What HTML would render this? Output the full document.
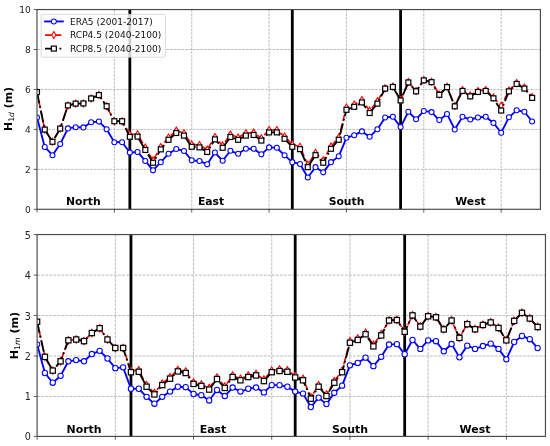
<!DOCTYPE html>
<html><head><meta charset="utf-8"><title>Wave height</title>
<style>html,body{margin:0;padding:0;background:#fff}svg{display:block}</style></head>
<body>
<svg width="550" height="446" viewBox="0 0 550 446">
<rect width="550" height="446" fill="#fff"/>
<g>
<path d="M114.36 9.55V209.3M191.73 9.55V209.3M269.09 9.55V209.3M346.45 9.55V209.3M423.81 9.55V209.3M501.18 9.55V209.3M37 169.35H540.4M37 129.4H540.4M37 89.45H540.4M37 49.5H540.4" fill="none" stroke="#b0b0b0" stroke-width="0.85" stroke-dasharray="2.65 1.15"/>
<line x1="129.84" x2="129.84" y1="9.55" y2="209.3" stroke="#000" stroke-width="2.8"/>
<line x1="292.3" x2="292.3" y1="9.55" y2="209.3" stroke="#000" stroke-width="2.8"/>
<line x1="400.61" x2="400.61" y1="9.55" y2="209.3" stroke="#000" stroke-width="2.8"/>
<text x="83.3" y="205" text-anchor="middle" font-family="'DejaVu Sans','Liberation Sans',sans-serif" font-weight="bold" font-size="10.8">North</text>
<text x="211" y="205" text-anchor="middle" font-family="'DejaVu Sans','Liberation Sans',sans-serif" font-weight="bold" font-size="10.8">East</text>
<text x="346.5" y="205" text-anchor="middle" font-family="'DejaVu Sans','Liberation Sans',sans-serif" font-weight="bold" font-size="10.8">South</text>
<text x="470.5" y="205" text-anchor="middle" font-family="'DejaVu Sans','Liberation Sans',sans-serif" font-weight="bold" font-size="10.8">West</text>
<clipPath id="c1d"><rect x="37" y="9.55" width="503.4" height="199.75"/></clipPath>
<g clip-path="url(#c1d)">
<polyline points="37,117.42 44.74,146.98 52.47,155.17 60.21,143.98 67.95,128.4 75.68,127.2 83.42,127.4 91.15,122.21 98.89,121.61 106.63,129.2 114.36,142.18 122.1,142.18 129.84,152.57 137.57,151.97 145.31,160.96 153.04,170.35 160.78,162.16 168.52,153.77 176.25,148.98 183.99,150.97 191.73,160.36 199.46,160.96 207.2,164.36 214.93,152.57 222.67,160.76 230.41,150.77 238.14,153.77 245.88,148.78 253.62,148.78 261.35,154.37 269.09,147.38 276.82,147.78 284.56,155.37 292.3,162.16 300.03,163.96 307.77,177.54 315.51,167.15 323.24,172.35 330.98,162.16 338.72,156.37 346.45,137.79 354.19,135.19 361.92,131.4 369.66,136.79 377.4,129.2 385.13,117.51 392.87,116.72 400.61,127.1 408.34,111.72 416.08,119.31 423.81,110.92 431.55,112.12 439.29,120.11 447.02,113.92 454.76,129.5 462.5,116.72 470.23,119.51 477.97,117.51 485.7,116.72 493.44,122.91 501.18,132.7 508.91,117.32 516.65,110.32 524.39,111.72 532.12,121.51" fill="none" stroke="#0000ff" stroke-width="1.85" stroke-linejoin="round"/>
<circle cx="37" cy="117.42" r="2.52" fill="#fff" stroke="#0000ff" stroke-width="1.05"/>
<circle cx="44.74" cy="146.98" r="2.52" fill="#fff" stroke="#0000ff" stroke-width="1.05"/>
<circle cx="52.47" cy="155.17" r="2.52" fill="#fff" stroke="#0000ff" stroke-width="1.05"/>
<circle cx="60.21" cy="143.98" r="2.52" fill="#fff" stroke="#0000ff" stroke-width="1.05"/>
<circle cx="67.95" cy="128.4" r="2.52" fill="#fff" stroke="#0000ff" stroke-width="1.05"/>
<circle cx="75.68" cy="127.2" r="2.52" fill="#fff" stroke="#0000ff" stroke-width="1.05"/>
<circle cx="83.42" cy="127.4" r="2.52" fill="#fff" stroke="#0000ff" stroke-width="1.05"/>
<circle cx="91.15" cy="122.21" r="2.52" fill="#fff" stroke="#0000ff" stroke-width="1.05"/>
<circle cx="98.89" cy="121.61" r="2.52" fill="#fff" stroke="#0000ff" stroke-width="1.05"/>
<circle cx="106.63" cy="129.2" r="2.52" fill="#fff" stroke="#0000ff" stroke-width="1.05"/>
<circle cx="114.36" cy="142.18" r="2.52" fill="#fff" stroke="#0000ff" stroke-width="1.05"/>
<circle cx="122.1" cy="142.18" r="2.52" fill="#fff" stroke="#0000ff" stroke-width="1.05"/>
<circle cx="129.84" cy="152.57" r="2.52" fill="#fff" stroke="#0000ff" stroke-width="1.05"/>
<circle cx="137.57" cy="151.97" r="2.52" fill="#fff" stroke="#0000ff" stroke-width="1.05"/>
<circle cx="145.31" cy="160.96" r="2.52" fill="#fff" stroke="#0000ff" stroke-width="1.05"/>
<circle cx="153.04" cy="170.35" r="2.52" fill="#fff" stroke="#0000ff" stroke-width="1.05"/>
<circle cx="160.78" cy="162.16" r="2.52" fill="#fff" stroke="#0000ff" stroke-width="1.05"/>
<circle cx="168.52" cy="153.77" r="2.52" fill="#fff" stroke="#0000ff" stroke-width="1.05"/>
<circle cx="176.25" cy="148.98" r="2.52" fill="#fff" stroke="#0000ff" stroke-width="1.05"/>
<circle cx="183.99" cy="150.97" r="2.52" fill="#fff" stroke="#0000ff" stroke-width="1.05"/>
<circle cx="191.73" cy="160.36" r="2.52" fill="#fff" stroke="#0000ff" stroke-width="1.05"/>
<circle cx="199.46" cy="160.96" r="2.52" fill="#fff" stroke="#0000ff" stroke-width="1.05"/>
<circle cx="207.2" cy="164.36" r="2.52" fill="#fff" stroke="#0000ff" stroke-width="1.05"/>
<circle cx="214.93" cy="152.57" r="2.52" fill="#fff" stroke="#0000ff" stroke-width="1.05"/>
<circle cx="222.67" cy="160.76" r="2.52" fill="#fff" stroke="#0000ff" stroke-width="1.05"/>
<circle cx="230.41" cy="150.77" r="2.52" fill="#fff" stroke="#0000ff" stroke-width="1.05"/>
<circle cx="238.14" cy="153.77" r="2.52" fill="#fff" stroke="#0000ff" stroke-width="1.05"/>
<circle cx="245.88" cy="148.78" r="2.52" fill="#fff" stroke="#0000ff" stroke-width="1.05"/>
<circle cx="253.62" cy="148.78" r="2.52" fill="#fff" stroke="#0000ff" stroke-width="1.05"/>
<circle cx="261.35" cy="154.37" r="2.52" fill="#fff" stroke="#0000ff" stroke-width="1.05"/>
<circle cx="269.09" cy="147.38" r="2.52" fill="#fff" stroke="#0000ff" stroke-width="1.05"/>
<circle cx="276.82" cy="147.78" r="2.52" fill="#fff" stroke="#0000ff" stroke-width="1.05"/>
<circle cx="284.56" cy="155.37" r="2.52" fill="#fff" stroke="#0000ff" stroke-width="1.05"/>
<circle cx="292.3" cy="162.16" r="2.52" fill="#fff" stroke="#0000ff" stroke-width="1.05"/>
<circle cx="300.03" cy="163.96" r="2.52" fill="#fff" stroke="#0000ff" stroke-width="1.05"/>
<circle cx="307.77" cy="177.54" r="2.52" fill="#fff" stroke="#0000ff" stroke-width="1.05"/>
<circle cx="315.51" cy="167.15" r="2.52" fill="#fff" stroke="#0000ff" stroke-width="1.05"/>
<circle cx="323.24" cy="172.35" r="2.52" fill="#fff" stroke="#0000ff" stroke-width="1.05"/>
<circle cx="330.98" cy="162.16" r="2.52" fill="#fff" stroke="#0000ff" stroke-width="1.05"/>
<circle cx="338.72" cy="156.37" r="2.52" fill="#fff" stroke="#0000ff" stroke-width="1.05"/>
<circle cx="346.45" cy="137.79" r="2.52" fill="#fff" stroke="#0000ff" stroke-width="1.05"/>
<circle cx="354.19" cy="135.19" r="2.52" fill="#fff" stroke="#0000ff" stroke-width="1.05"/>
<circle cx="361.92" cy="131.4" r="2.52" fill="#fff" stroke="#0000ff" stroke-width="1.05"/>
<circle cx="369.66" cy="136.79" r="2.52" fill="#fff" stroke="#0000ff" stroke-width="1.05"/>
<circle cx="377.4" cy="129.2" r="2.52" fill="#fff" stroke="#0000ff" stroke-width="1.05"/>
<circle cx="385.13" cy="117.51" r="2.52" fill="#fff" stroke="#0000ff" stroke-width="1.05"/>
<circle cx="392.87" cy="116.72" r="2.52" fill="#fff" stroke="#0000ff" stroke-width="1.05"/>
<circle cx="400.61" cy="127.1" r="2.52" fill="#fff" stroke="#0000ff" stroke-width="1.05"/>
<circle cx="408.34" cy="111.72" r="2.52" fill="#fff" stroke="#0000ff" stroke-width="1.05"/>
<circle cx="416.08" cy="119.31" r="2.52" fill="#fff" stroke="#0000ff" stroke-width="1.05"/>
<circle cx="423.81" cy="110.92" r="2.52" fill="#fff" stroke="#0000ff" stroke-width="1.05"/>
<circle cx="431.55" cy="112.12" r="2.52" fill="#fff" stroke="#0000ff" stroke-width="1.05"/>
<circle cx="439.29" cy="120.11" r="2.52" fill="#fff" stroke="#0000ff" stroke-width="1.05"/>
<circle cx="447.02" cy="113.92" r="2.52" fill="#fff" stroke="#0000ff" stroke-width="1.05"/>
<circle cx="454.76" cy="129.5" r="2.52" fill="#fff" stroke="#0000ff" stroke-width="1.05"/>
<circle cx="462.5" cy="116.72" r="2.52" fill="#fff" stroke="#0000ff" stroke-width="1.05"/>
<circle cx="470.23" cy="119.51" r="2.52" fill="#fff" stroke="#0000ff" stroke-width="1.05"/>
<circle cx="477.97" cy="117.51" r="2.52" fill="#fff" stroke="#0000ff" stroke-width="1.05"/>
<circle cx="485.7" cy="116.72" r="2.52" fill="#fff" stroke="#0000ff" stroke-width="1.05"/>
<circle cx="493.44" cy="122.91" r="2.52" fill="#fff" stroke="#0000ff" stroke-width="1.05"/>
<circle cx="501.18" cy="132.7" r="2.52" fill="#fff" stroke="#0000ff" stroke-width="1.05"/>
<circle cx="508.91" cy="117.32" r="2.52" fill="#fff" stroke="#0000ff" stroke-width="1.05"/>
<circle cx="516.65" cy="110.32" r="2.52" fill="#fff" stroke="#0000ff" stroke-width="1.05"/>
<circle cx="524.39" cy="111.72" r="2.52" fill="#fff" stroke="#0000ff" stroke-width="1.05"/>
<circle cx="532.12" cy="121.51" r="2.52" fill="#fff" stroke="#0000ff" stroke-width="1.05"/>
<polyline points="37,92.05 44.74,129.6 52.47,141.78 60.21,128.6 67.95,105.43 75.68,103.63 83.42,103.43 91.15,98.44 98.89,95.04 106.63,106.23 114.36,121.21 122.1,121.21 129.84,134.39 137.57,134.19 145.31,147.58 153.04,160.36 160.78,146.98 168.52,137.39 176.25,130.6 183.99,133.2 191.73,144.38 199.46,144.98 207.2,149.57 214.93,136.99 222.67,145.38 230.41,134.59 238.14,137.39 245.88,133.2 253.62,132.6 261.35,138.19 269.09,130 276.82,130 284.56,136.39 292.3,144.38 300.03,146.78 307.77,164.76 315.51,152.77 323.24,160.36 330.98,146.38 338.72,137.39 346.45,107.43 354.19,104.43 361.92,100.04 369.66,110.62 377.4,101.24 385.13,88.19 392.87,86.59 400.61,100.08 408.34,82.1 416.08,90.99 423.81,80 431.55,81.8 439.29,94.48 447.02,86.79 454.76,105.97 462.5,89.99 470.23,95.38 477.97,90.99 485.7,89.99 493.44,97.38 501.18,105.73 508.91,90.39 516.65,83 524.39,87.59 532.12,96.98" fill="none" stroke="#ff0000" stroke-width="1.6" stroke-dasharray="6.66 2.88" stroke-linejoin="round"/>
<path d="M37 88.6L39.1 92.05L37 95.5L34.9 92.05Z" fill="#fff" stroke="#ff0000" stroke-width="1.1"/>
<path d="M44.74 126.15L46.84 129.6L44.74 133.05L42.64 129.6Z" fill="#fff" stroke="#ff0000" stroke-width="1.1"/>
<path d="M52.47 138.33L54.57 141.78L52.47 145.23L50.37 141.78Z" fill="#fff" stroke="#ff0000" stroke-width="1.1"/>
<path d="M60.21 125.15L62.31 128.6L60.21 132.05L58.11 128.6Z" fill="#fff" stroke="#ff0000" stroke-width="1.1"/>
<path d="M67.95 101.98L70.04 105.43L67.95 108.88L65.85 105.43Z" fill="#fff" stroke="#ff0000" stroke-width="1.1"/>
<path d="M75.68 100.18L77.78 103.63L75.68 107.08L73.58 103.63Z" fill="#fff" stroke="#ff0000" stroke-width="1.1"/>
<path d="M83.42 99.98L85.52 103.43L83.42 106.88L81.32 103.43Z" fill="#fff" stroke="#ff0000" stroke-width="1.1"/>
<path d="M91.15 94.99L93.25 98.44L91.15 101.89L89.06 98.44Z" fill="#fff" stroke="#ff0000" stroke-width="1.1"/>
<path d="M98.89 91.59L100.99 95.04L98.89 98.49L96.79 95.04Z" fill="#fff" stroke="#ff0000" stroke-width="1.1"/>
<path d="M106.63 102.78L108.73 106.23L106.63 109.68L104.53 106.23Z" fill="#fff" stroke="#ff0000" stroke-width="1.1"/>
<path d="M114.36 117.76L116.46 121.21L114.36 124.66L112.26 121.21Z" fill="#fff" stroke="#ff0000" stroke-width="1.1"/>
<path d="M122.1 117.76L124.2 121.21L122.1 124.66L120 121.21Z" fill="#fff" stroke="#ff0000" stroke-width="1.1"/>
<path d="M129.84 130.94L131.93 134.39L129.84 137.84L127.74 134.39Z" fill="#fff" stroke="#ff0000" stroke-width="1.1"/>
<path d="M137.57 130.74L139.67 134.19L137.57 137.64L135.47 134.19Z" fill="#fff" stroke="#ff0000" stroke-width="1.1"/>
<path d="M145.31 144.13L147.41 147.58L145.31 151.03L143.21 147.58Z" fill="#fff" stroke="#ff0000" stroke-width="1.1"/>
<path d="M153.04 156.91L155.14 160.36L153.04 163.81L150.95 160.36Z" fill="#fff" stroke="#ff0000" stroke-width="1.1"/>
<path d="M160.78 143.53L162.88 146.98L160.78 150.43L158.68 146.98Z" fill="#fff" stroke="#ff0000" stroke-width="1.1"/>
<path d="M168.52 133.94L170.62 137.39L168.52 140.84L166.42 137.39Z" fill="#fff" stroke="#ff0000" stroke-width="1.1"/>
<path d="M176.25 127.15L178.35 130.6L176.25 134.05L174.15 130.6Z" fill="#fff" stroke="#ff0000" stroke-width="1.1"/>
<path d="M183.99 129.75L186.09 133.2L183.99 136.64L181.89 133.2Z" fill="#fff" stroke="#ff0000" stroke-width="1.1"/>
<path d="M191.73 140.93L193.82 144.38L191.73 147.83L189.63 144.38Z" fill="#fff" stroke="#ff0000" stroke-width="1.1"/>
<path d="M199.46 141.53L201.56 144.98L199.46 148.43L197.36 144.98Z" fill="#fff" stroke="#ff0000" stroke-width="1.1"/>
<path d="M207.2 146.13L209.3 149.57L207.2 153.02L205.1 149.57Z" fill="#fff" stroke="#ff0000" stroke-width="1.1"/>
<path d="M214.93 133.54L217.03 136.99L214.93 140.44L212.84 136.99Z" fill="#fff" stroke="#ff0000" stroke-width="1.1"/>
<path d="M222.67 141.93L224.77 145.38L222.67 148.83L220.57 145.38Z" fill="#fff" stroke="#ff0000" stroke-width="1.1"/>
<path d="M230.41 131.14L232.51 134.59L230.41 138.04L228.31 134.59Z" fill="#fff" stroke="#ff0000" stroke-width="1.1"/>
<path d="M238.14 133.94L240.24 137.39L238.14 140.84L236.04 137.39Z" fill="#fff" stroke="#ff0000" stroke-width="1.1"/>
<path d="M245.88 129.75L247.98 133.2L245.88 136.64L243.78 133.2Z" fill="#fff" stroke="#ff0000" stroke-width="1.1"/>
<path d="M253.62 129.15L255.71 132.6L253.62 136.05L251.52 132.6Z" fill="#fff" stroke="#ff0000" stroke-width="1.1"/>
<path d="M261.35 134.74L263.45 138.19L261.35 141.64L259.25 138.19Z" fill="#fff" stroke="#ff0000" stroke-width="1.1"/>
<path d="M269.09 126.55L271.19 130L269.09 133.45L266.99 130Z" fill="#fff" stroke="#ff0000" stroke-width="1.1"/>
<path d="M276.82 126.55L278.92 130L276.82 133.45L274.73 130Z" fill="#fff" stroke="#ff0000" stroke-width="1.1"/>
<path d="M284.56 132.94L286.66 136.39L284.56 139.84L282.46 136.39Z" fill="#fff" stroke="#ff0000" stroke-width="1.1"/>
<path d="M292.3 140.93L294.4 144.38L292.3 147.83L290.2 144.38Z" fill="#fff" stroke="#ff0000" stroke-width="1.1"/>
<path d="M300.03 143.33L302.13 146.78L300.03 150.23L297.93 146.78Z" fill="#fff" stroke="#ff0000" stroke-width="1.1"/>
<path d="M307.77 161.31L309.87 164.76L307.77 168.21L305.67 164.76Z" fill="#fff" stroke="#ff0000" stroke-width="1.1"/>
<path d="M315.51 149.32L317.61 152.77L315.51 156.22L313.41 152.77Z" fill="#fff" stroke="#ff0000" stroke-width="1.1"/>
<path d="M323.24 156.91L325.34 160.36L323.24 163.81L321.14 160.36Z" fill="#fff" stroke="#ff0000" stroke-width="1.1"/>
<path d="M330.98 142.93L333.08 146.38L330.98 149.83L328.88 146.38Z" fill="#fff" stroke="#ff0000" stroke-width="1.1"/>
<path d="M338.72 133.94L340.81 137.39L338.72 140.84L336.62 137.39Z" fill="#fff" stroke="#ff0000" stroke-width="1.1"/>
<path d="M346.45 103.98L348.55 107.43L346.45 110.88L344.35 107.43Z" fill="#fff" stroke="#ff0000" stroke-width="1.1"/>
<path d="M354.19 100.98L356.29 104.43L354.19 107.88L352.09 104.43Z" fill="#fff" stroke="#ff0000" stroke-width="1.1"/>
<path d="M361.92 96.59L364.02 100.04L361.92 103.49L359.83 100.04Z" fill="#fff" stroke="#ff0000" stroke-width="1.1"/>
<path d="M369.66 107.17L371.76 110.62L369.66 114.07L367.56 110.62Z" fill="#fff" stroke="#ff0000" stroke-width="1.1"/>
<path d="M377.4 97.79L379.5 101.24L377.4 104.68L375.3 101.24Z" fill="#fff" stroke="#ff0000" stroke-width="1.1"/>
<path d="M385.13 84.74L387.23 88.19L385.13 91.64L383.03 88.19Z" fill="#fff" stroke="#ff0000" stroke-width="1.1"/>
<path d="M392.87 83.14L394.97 86.59L392.87 90.04L390.77 86.59Z" fill="#fff" stroke="#ff0000" stroke-width="1.1"/>
<path d="M400.61 96.63L402.7 100.08L400.61 103.53L398.51 100.08Z" fill="#fff" stroke="#ff0000" stroke-width="1.1"/>
<path d="M408.34 78.65L410.44 82.1L408.34 85.55L406.24 82.1Z" fill="#fff" stroke="#ff0000" stroke-width="1.1"/>
<path d="M416.08 87.54L418.18 90.99L416.08 94.44L413.98 90.99Z" fill="#fff" stroke="#ff0000" stroke-width="1.1"/>
<path d="M423.81 76.55L425.91 80L423.81 83.45L421.72 80Z" fill="#fff" stroke="#ff0000" stroke-width="1.1"/>
<path d="M431.55 78.35L433.65 81.8L431.55 85.25L429.45 81.8Z" fill="#fff" stroke="#ff0000" stroke-width="1.1"/>
<path d="M439.29 91.03L441.39 94.48L439.29 97.93L437.19 94.48Z" fill="#fff" stroke="#ff0000" stroke-width="1.1"/>
<path d="M447.02 83.34L449.12 86.79L447.02 90.24L444.92 86.79Z" fill="#fff" stroke="#ff0000" stroke-width="1.1"/>
<path d="M454.76 102.52L456.86 105.97L454.76 109.42L452.66 105.97Z" fill="#fff" stroke="#ff0000" stroke-width="1.1"/>
<path d="M462.5 86.54L464.59 89.99L462.5 93.44L460.4 89.99Z" fill="#fff" stroke="#ff0000" stroke-width="1.1"/>
<path d="M470.23 91.93L472.33 95.38L470.23 98.83L468.13 95.38Z" fill="#fff" stroke="#ff0000" stroke-width="1.1"/>
<path d="M477.97 87.54L480.07 90.99L477.97 94.44L475.87 90.99Z" fill="#fff" stroke="#ff0000" stroke-width="1.1"/>
<path d="M485.7 86.54L487.8 89.99L485.7 93.44L483.61 89.99Z" fill="#fff" stroke="#ff0000" stroke-width="1.1"/>
<path d="M493.44 93.93L495.54 97.38L493.44 100.83L491.34 97.38Z" fill="#fff" stroke="#ff0000" stroke-width="1.1"/>
<path d="M501.18 102.28L503.28 105.73L501.18 109.18L499.08 105.73Z" fill="#fff" stroke="#ff0000" stroke-width="1.1"/>
<path d="M508.91 86.94L511.01 90.39L508.91 93.84L506.81 90.39Z" fill="#fff" stroke="#ff0000" stroke-width="1.1"/>
<path d="M516.65 79.55L518.75 83L516.65 86.45L514.55 83Z" fill="#fff" stroke="#ff0000" stroke-width="1.1"/>
<path d="M524.39 84.14L526.48 87.59L524.39 91.04L522.29 87.59Z" fill="#fff" stroke="#ff0000" stroke-width="1.1"/>
<path d="M532.12 93.53L534.22 96.98L532.12 100.43L530.02 96.98Z" fill="#fff" stroke="#ff0000" stroke-width="1.1"/>
<polyline points="37,92.05 44.74,129.6 52.47,141.78 60.21,128.6 67.95,105.43 75.68,103.63 83.42,103.43 91.15,98.44 98.89,95.04 106.63,106.23 114.36,121.21 122.1,121.21 129.84,136.79 137.57,136.59 145.31,149.97 153.04,162.76 160.78,149.38 168.52,139.79 176.25,133 183.99,135.59 191.73,146.78 199.46,147.38 207.2,151.97 214.93,139.39 222.67,147.78 230.41,136.99 238.14,139.79 245.88,135.59 253.62,134.99 261.35,140.59 269.09,132.4 276.82,132.4 284.56,138.79 292.3,146.78 300.03,149.18 307.77,167.15 315.51,155.17 323.24,162.76 330.98,148.78 338.72,139.79 346.45,109.82 354.19,106.83 361.92,102.43 369.66,113.02 377.4,103.63 385.13,88.55 392.87,86.95 400.61,100.44 408.34,82.46 416.08,91.35 423.81,80.36 431.55,82.16 439.29,94.84 447.02,87.15 454.76,106.33 462.5,90.95 470.23,96.34 477.97,91.95 485.7,90.95 493.44,98.34 501.18,110.52 508.91,91.35 516.65,83.96 524.39,88.55 532.12,97.94" fill="none" stroke="#000" stroke-width="1.85" stroke-dasharray="11.52 2.88 1.8 2.88" stroke-linejoin="round"/>
<rect x="34.52" y="89.57" width="4.95" height="4.95" fill="#fff" stroke="#000" stroke-width="1.2"/>
<rect x="42.26" y="127.12" width="4.95" height="4.95" fill="#fff" stroke="#000" stroke-width="1.2"/>
<rect x="50" y="139.31" width="4.95" height="4.95" fill="#fff" stroke="#000" stroke-width="1.2"/>
<rect x="57.73" y="126.13" width="4.95" height="4.95" fill="#fff" stroke="#000" stroke-width="1.2"/>
<rect x="65.47" y="102.96" width="4.95" height="4.95" fill="#fff" stroke="#000" stroke-width="1.2"/>
<rect x="73.21" y="101.16" width="4.95" height="4.95" fill="#fff" stroke="#000" stroke-width="1.2"/>
<rect x="80.94" y="100.96" width="4.95" height="4.95" fill="#fff" stroke="#000" stroke-width="1.2"/>
<rect x="88.68" y="95.96" width="4.95" height="4.95" fill="#fff" stroke="#000" stroke-width="1.2"/>
<rect x="96.42" y="92.57" width="4.95" height="4.95" fill="#fff" stroke="#000" stroke-width="1.2"/>
<rect x="104.15" y="103.75" width="4.95" height="4.95" fill="#fff" stroke="#000" stroke-width="1.2"/>
<rect x="111.89" y="118.74" width="4.95" height="4.95" fill="#fff" stroke="#000" stroke-width="1.2"/>
<rect x="119.62" y="118.74" width="4.95" height="4.95" fill="#fff" stroke="#000" stroke-width="1.2"/>
<rect x="127.36" y="134.32" width="4.95" height="4.95" fill="#fff" stroke="#000" stroke-width="1.2"/>
<rect x="135.1" y="134.12" width="4.95" height="4.95" fill="#fff" stroke="#000" stroke-width="1.2"/>
<rect x="142.83" y="147.5" width="4.95" height="4.95" fill="#fff" stroke="#000" stroke-width="1.2"/>
<rect x="150.57" y="160.28" width="4.95" height="4.95" fill="#fff" stroke="#000" stroke-width="1.2"/>
<rect x="158.31" y="146.9" width="4.95" height="4.95" fill="#fff" stroke="#000" stroke-width="1.2"/>
<rect x="166.04" y="137.31" width="4.95" height="4.95" fill="#fff" stroke="#000" stroke-width="1.2"/>
<rect x="173.78" y="130.52" width="4.95" height="4.95" fill="#fff" stroke="#000" stroke-width="1.2"/>
<rect x="181.51" y="133.12" width="4.95" height="4.95" fill="#fff" stroke="#000" stroke-width="1.2"/>
<rect x="189.25" y="144.3" width="4.95" height="4.95" fill="#fff" stroke="#000" stroke-width="1.2"/>
<rect x="196.99" y="144.9" width="4.95" height="4.95" fill="#fff" stroke="#000" stroke-width="1.2"/>
<rect x="204.72" y="149.5" width="4.95" height="4.95" fill="#fff" stroke="#000" stroke-width="1.2"/>
<rect x="212.46" y="136.91" width="4.95" height="4.95" fill="#fff" stroke="#000" stroke-width="1.2"/>
<rect x="220.2" y="145.3" width="4.95" height="4.95" fill="#fff" stroke="#000" stroke-width="1.2"/>
<rect x="227.93" y="134.52" width="4.95" height="4.95" fill="#fff" stroke="#000" stroke-width="1.2"/>
<rect x="235.67" y="137.31" width="4.95" height="4.95" fill="#fff" stroke="#000" stroke-width="1.2"/>
<rect x="243.4" y="133.12" width="4.95" height="4.95" fill="#fff" stroke="#000" stroke-width="1.2"/>
<rect x="251.14" y="132.52" width="4.95" height="4.95" fill="#fff" stroke="#000" stroke-width="1.2"/>
<rect x="258.88" y="138.11" width="4.95" height="4.95" fill="#fff" stroke="#000" stroke-width="1.2"/>
<rect x="266.61" y="129.92" width="4.95" height="4.95" fill="#fff" stroke="#000" stroke-width="1.2"/>
<rect x="274.35" y="129.92" width="4.95" height="4.95" fill="#fff" stroke="#000" stroke-width="1.2"/>
<rect x="282.09" y="136.31" width="4.95" height="4.95" fill="#fff" stroke="#000" stroke-width="1.2"/>
<rect x="289.82" y="144.3" width="4.95" height="4.95" fill="#fff" stroke="#000" stroke-width="1.2"/>
<rect x="297.56" y="146.7" width="4.95" height="4.95" fill="#fff" stroke="#000" stroke-width="1.2"/>
<rect x="305.29" y="164.68" width="4.95" height="4.95" fill="#fff" stroke="#000" stroke-width="1.2"/>
<rect x="313.03" y="152.69" width="4.95" height="4.95" fill="#fff" stroke="#000" stroke-width="1.2"/>
<rect x="320.77" y="160.28" width="4.95" height="4.95" fill="#fff" stroke="#000" stroke-width="1.2"/>
<rect x="328.5" y="146.3" width="4.95" height="4.95" fill="#fff" stroke="#000" stroke-width="1.2"/>
<rect x="336.24" y="137.31" width="4.95" height="4.95" fill="#fff" stroke="#000" stroke-width="1.2"/>
<rect x="343.98" y="107.35" width="4.95" height="4.95" fill="#fff" stroke="#000" stroke-width="1.2"/>
<rect x="351.71" y="104.35" width="4.95" height="4.95" fill="#fff" stroke="#000" stroke-width="1.2"/>
<rect x="359.45" y="99.96" width="4.95" height="4.95" fill="#fff" stroke="#000" stroke-width="1.2"/>
<rect x="367.19" y="110.55" width="4.95" height="4.95" fill="#fff" stroke="#000" stroke-width="1.2"/>
<rect x="374.92" y="101.16" width="4.95" height="4.95" fill="#fff" stroke="#000" stroke-width="1.2"/>
<rect x="382.66" y="86.08" width="4.95" height="4.95" fill="#fff" stroke="#000" stroke-width="1.2"/>
<rect x="390.39" y="84.48" width="4.95" height="4.95" fill="#fff" stroke="#000" stroke-width="1.2"/>
<rect x="398.13" y="97.96" width="4.95" height="4.95" fill="#fff" stroke="#000" stroke-width="1.2"/>
<rect x="405.87" y="79.98" width="4.95" height="4.95" fill="#fff" stroke="#000" stroke-width="1.2"/>
<rect x="413.6" y="88.87" width="4.95" height="4.95" fill="#fff" stroke="#000" stroke-width="1.2"/>
<rect x="421.34" y="77.89" width="4.95" height="4.95" fill="#fff" stroke="#000" stroke-width="1.2"/>
<rect x="429.08" y="79.68" width="4.95" height="4.95" fill="#fff" stroke="#000" stroke-width="1.2"/>
<rect x="436.81" y="92.37" width="4.95" height="4.95" fill="#fff" stroke="#000" stroke-width="1.2"/>
<rect x="444.55" y="84.68" width="4.95" height="4.95" fill="#fff" stroke="#000" stroke-width="1.2"/>
<rect x="452.28" y="103.85" width="4.95" height="4.95" fill="#fff" stroke="#000" stroke-width="1.2"/>
<rect x="460.02" y="88.47" width="4.95" height="4.95" fill="#fff" stroke="#000" stroke-width="1.2"/>
<rect x="467.76" y="93.87" width="4.95" height="4.95" fill="#fff" stroke="#000" stroke-width="1.2"/>
<rect x="475.49" y="89.47" width="4.95" height="4.95" fill="#fff" stroke="#000" stroke-width="1.2"/>
<rect x="483.23" y="88.47" width="4.95" height="4.95" fill="#fff" stroke="#000" stroke-width="1.2"/>
<rect x="490.97" y="95.86" width="4.95" height="4.95" fill="#fff" stroke="#000" stroke-width="1.2"/>
<rect x="498.7" y="108.05" width="4.95" height="4.95" fill="#fff" stroke="#000" stroke-width="1.2"/>
<rect x="506.44" y="88.87" width="4.95" height="4.95" fill="#fff" stroke="#000" stroke-width="1.2"/>
<rect x="514.17" y="81.48" width="4.95" height="4.95" fill="#fff" stroke="#000" stroke-width="1.2"/>
<rect x="521.91" y="86.08" width="4.95" height="4.95" fill="#fff" stroke="#000" stroke-width="1.2"/>
<rect x="529.65" y="95.46" width="4.95" height="4.95" fill="#fff" stroke="#000" stroke-width="1.2"/>
</g>
<rect x="37" y="9.55" width="503.4" height="199.75" fill="none" stroke="#484848" stroke-width="1.15"/>
<path d="M37 209.3v3.3M114.36 209.3v3.3M191.73 209.3v3.3M269.09 209.3v3.3M346.45 209.3v3.3M423.81 209.3v3.3M501.18 209.3v3.3M37 209.3h-3.3M37 169.35h-3.3M37 129.4h-3.3M37 89.45h-3.3M37 49.5h-3.3M37 9.55h-3.3" fill="none" stroke="#484848" stroke-width="0.9"/>
<text x="30.7" y="213.04" text-anchor="end" font-family="'DejaVu Sans','Liberation Sans',sans-serif" font-size="9.05" fill="#222">0</text>
<text x="30.7" y="173.09" text-anchor="end" font-family="'DejaVu Sans','Liberation Sans',sans-serif" font-size="9.05" fill="#222">2</text>
<text x="30.7" y="133.14" text-anchor="end" font-family="'DejaVu Sans','Liberation Sans',sans-serif" font-size="9.05" fill="#222">4</text>
<text x="30.7" y="93.19" text-anchor="end" font-family="'DejaVu Sans','Liberation Sans',sans-serif" font-size="9.05" fill="#222">6</text>
<text x="30.7" y="53.24" text-anchor="end" font-family="'DejaVu Sans','Liberation Sans',sans-serif" font-size="9.05" fill="#222">8</text>
<text x="30.7" y="13.29" text-anchor="end" font-family="'DejaVu Sans','Liberation Sans',sans-serif" font-size="9.05" fill="#222">10</text>
<text transform="translate(11.9 109) rotate(-90)" text-anchor="middle" font-family="'DejaVu Sans','Liberation Sans',sans-serif" font-weight="bold" font-size="10.9">H<tspan font-size="7.63" font-weight="normal" dy="2">1<tspan font-style="italic">d</tspan></tspan><tspan dy="-2"> (m)</tspan></text>
</g>
<g>
<rect x="41.2" y="14.3" width="124.2" height="42.9" rx="1.6" fill="#fff" fill-opacity="0.8" stroke="#cccccc" stroke-opacity="0.8" stroke-width="0.9"/>
<line x1="45.05" x2="62.85" y1="21.45" y2="21.45" stroke="#0000ff" stroke-width="1.85" stroke-linecap="square"/>
<circle cx="53.85" cy="21.45" r="2.52" fill="#fff" stroke="#0000ff" stroke-width="1.05"/>
<line x1="45.05" x2="62.85" y1="35.05" y2="35.05" stroke="#ff0000" stroke-width="1.8" stroke-dasharray="6.66 2.88"/>
<path d="M53.85 31.6L55.95 35.05L53.85 38.5L51.75 35.05Z" fill="#fff" stroke="#ff0000" stroke-width="1.1"/>
<line x1="45.05" x2="62.85" y1="48.6" y2="48.6" stroke="#000" stroke-width="1.85" stroke-dasharray="11.52 2.88 1.8 2.88"/>
<rect x="51.38" y="46.12" width="4.95" height="4.95" fill="#fff" stroke="#000" stroke-width="1.2"/>
<text x="70.0" y="24.8" font-family="'DejaVu Sans','Liberation Sans',sans-serif" font-size="9.05" fill="#111">ERA5 (2001-2017)</text>
<text x="70.0" y="38.4" font-family="'DejaVu Sans','Liberation Sans',sans-serif" font-size="9.05" fill="#111">RCP4.5 (2040-2100)</text>
<text x="70.0" y="51.95" font-family="'DejaVu Sans','Liberation Sans',sans-serif" font-size="9.05" fill="#111">RCP8.5 (2040-2100)</text>
</g>
<g>
<path d="M115.31 234.55V436.4M193.52 234.55V436.4M271.72 234.55V436.4M349.93 234.55V436.4M428.14 234.55V436.4M506.35 234.55V436.4M37.1 396.45H545.45M37.1 356H545.45M37.1 315.55H545.45M37.1 275.1H545.45" fill="none" stroke="#b0b0b0" stroke-width="0.85" stroke-dasharray="2.8 1.25"/>
<line x1="130.95" x2="130.95" y1="234.55" y2="436.4" stroke="#000" stroke-width="2.8"/>
<line x1="295.19" x2="295.19" y1="234.55" y2="436.4" stroke="#000" stroke-width="2.8"/>
<line x1="404.68" x2="404.68" y1="234.55" y2="436.4" stroke="#000" stroke-width="2.8"/>
<text x="84.1" y="433" text-anchor="middle" font-family="'DejaVu Sans','Liberation Sans',sans-serif" font-weight="bold" font-size="10.95">North</text>
<text x="213" y="433" text-anchor="middle" font-family="'DejaVu Sans','Liberation Sans',sans-serif" font-weight="bold" font-size="10.95">East</text>
<text x="350" y="433" text-anchor="middle" font-family="'DejaVu Sans','Liberation Sans',sans-serif" font-weight="bold" font-size="10.95">South</text>
<text x="475" y="433" text-anchor="middle" font-family="'DejaVu Sans','Liberation Sans',sans-serif" font-weight="bold" font-size="10.95">West</text>
<clipPath id="c1m"><rect x="37.1" y="234.55" width="508.35" height="201.85"/></clipPath>
<g clip-path="url(#c1m)">
<polyline points="37.1,344.36 44.92,373.02 52.74,382.71 60.56,375.84 68.38,361.31 76.2,360.1 84.02,361.31 91.85,354.05 99.67,350.82 107.49,358.49 115.31,368.17 123.13,367.37 130.95,388.76 138.77,388.76 146.59,396.84 154.41,403.7 162.23,396.84 170.05,391.59 177.87,386.74 185.69,387.15 193.52,394.01 201.34,395.22 209.16,400.47 216.98,389.97 224.8,396.03 232.62,387.55 240.44,391.59 248.26,388.76 256.08,387.55 263.9,392.4 271.72,385.13 279.54,385.13 287.36,386.74 295.19,391.59 303.01,393.61 310.83,407.05 318.65,397.64 326.47,404.1 334.29,392.8 342.11,385.65 349.93,365.35 357.75,362.93 365.57,357.68 373.39,366.16 381.21,356.87 389.03,344.56 396.86,344.15 404.68,354.25 412.5,340 420.32,348.88 428.14,340.4 435.96,341.21 443.78,351.3 451.6,344.03 459.42,357.36 467.24,345.65 475.06,348.88 482.88,346.05 490.7,343.63 498.53,348.88 506.35,359.37 514.17,342.01 521.99,335.96 529.81,339.19 537.63,348.07" fill="none" stroke="#0000ff" stroke-width="1.85" stroke-linejoin="round"/>
<circle cx="37.1" cy="344.36" r="2.67" fill="#fff" stroke="#0000ff" stroke-width="1.05"/>
<circle cx="44.92" cy="373.02" r="2.67" fill="#fff" stroke="#0000ff" stroke-width="1.05"/>
<circle cx="52.74" cy="382.71" r="2.67" fill="#fff" stroke="#0000ff" stroke-width="1.05"/>
<circle cx="60.56" cy="375.84" r="2.67" fill="#fff" stroke="#0000ff" stroke-width="1.05"/>
<circle cx="68.38" cy="361.31" r="2.67" fill="#fff" stroke="#0000ff" stroke-width="1.05"/>
<circle cx="76.2" cy="360.1" r="2.67" fill="#fff" stroke="#0000ff" stroke-width="1.05"/>
<circle cx="84.02" cy="361.31" r="2.67" fill="#fff" stroke="#0000ff" stroke-width="1.05"/>
<circle cx="91.85" cy="354.05" r="2.67" fill="#fff" stroke="#0000ff" stroke-width="1.05"/>
<circle cx="99.67" cy="350.82" r="2.67" fill="#fff" stroke="#0000ff" stroke-width="1.05"/>
<circle cx="107.49" cy="358.49" r="2.67" fill="#fff" stroke="#0000ff" stroke-width="1.05"/>
<circle cx="115.31" cy="368.17" r="2.67" fill="#fff" stroke="#0000ff" stroke-width="1.05"/>
<circle cx="123.13" cy="367.37" r="2.67" fill="#fff" stroke="#0000ff" stroke-width="1.05"/>
<circle cx="130.95" cy="388.76" r="2.67" fill="#fff" stroke="#0000ff" stroke-width="1.05"/>
<circle cx="138.77" cy="388.76" r="2.67" fill="#fff" stroke="#0000ff" stroke-width="1.05"/>
<circle cx="146.59" cy="396.84" r="2.67" fill="#fff" stroke="#0000ff" stroke-width="1.05"/>
<circle cx="154.41" cy="403.7" r="2.67" fill="#fff" stroke="#0000ff" stroke-width="1.05"/>
<circle cx="162.23" cy="396.84" r="2.67" fill="#fff" stroke="#0000ff" stroke-width="1.05"/>
<circle cx="170.05" cy="391.59" r="2.67" fill="#fff" stroke="#0000ff" stroke-width="1.05"/>
<circle cx="177.87" cy="386.74" r="2.67" fill="#fff" stroke="#0000ff" stroke-width="1.05"/>
<circle cx="185.69" cy="387.15" r="2.67" fill="#fff" stroke="#0000ff" stroke-width="1.05"/>
<circle cx="193.52" cy="394.01" r="2.67" fill="#fff" stroke="#0000ff" stroke-width="1.05"/>
<circle cx="201.34" cy="395.22" r="2.67" fill="#fff" stroke="#0000ff" stroke-width="1.05"/>
<circle cx="209.16" cy="400.47" r="2.67" fill="#fff" stroke="#0000ff" stroke-width="1.05"/>
<circle cx="216.98" cy="389.97" r="2.67" fill="#fff" stroke="#0000ff" stroke-width="1.05"/>
<circle cx="224.8" cy="396.03" r="2.67" fill="#fff" stroke="#0000ff" stroke-width="1.05"/>
<circle cx="232.62" cy="387.55" r="2.67" fill="#fff" stroke="#0000ff" stroke-width="1.05"/>
<circle cx="240.44" cy="391.59" r="2.67" fill="#fff" stroke="#0000ff" stroke-width="1.05"/>
<circle cx="248.26" cy="388.76" r="2.67" fill="#fff" stroke="#0000ff" stroke-width="1.05"/>
<circle cx="256.08" cy="387.55" r="2.67" fill="#fff" stroke="#0000ff" stroke-width="1.05"/>
<circle cx="263.9" cy="392.4" r="2.67" fill="#fff" stroke="#0000ff" stroke-width="1.05"/>
<circle cx="271.72" cy="385.13" r="2.67" fill="#fff" stroke="#0000ff" stroke-width="1.05"/>
<circle cx="279.54" cy="385.13" r="2.67" fill="#fff" stroke="#0000ff" stroke-width="1.05"/>
<circle cx="287.36" cy="386.74" r="2.67" fill="#fff" stroke="#0000ff" stroke-width="1.05"/>
<circle cx="295.19" cy="391.59" r="2.67" fill="#fff" stroke="#0000ff" stroke-width="1.05"/>
<circle cx="303.01" cy="393.61" r="2.67" fill="#fff" stroke="#0000ff" stroke-width="1.05"/>
<circle cx="310.83" cy="407.05" r="2.67" fill="#fff" stroke="#0000ff" stroke-width="1.05"/>
<circle cx="318.65" cy="397.64" r="2.67" fill="#fff" stroke="#0000ff" stroke-width="1.05"/>
<circle cx="326.47" cy="404.1" r="2.67" fill="#fff" stroke="#0000ff" stroke-width="1.05"/>
<circle cx="334.29" cy="392.8" r="2.67" fill="#fff" stroke="#0000ff" stroke-width="1.05"/>
<circle cx="342.11" cy="385.65" r="2.67" fill="#fff" stroke="#0000ff" stroke-width="1.05"/>
<circle cx="349.93" cy="365.35" r="2.67" fill="#fff" stroke="#0000ff" stroke-width="1.05"/>
<circle cx="357.75" cy="362.93" r="2.67" fill="#fff" stroke="#0000ff" stroke-width="1.05"/>
<circle cx="365.57" cy="357.68" r="2.67" fill="#fff" stroke="#0000ff" stroke-width="1.05"/>
<circle cx="373.39" cy="366.16" r="2.67" fill="#fff" stroke="#0000ff" stroke-width="1.05"/>
<circle cx="381.21" cy="356.87" r="2.67" fill="#fff" stroke="#0000ff" stroke-width="1.05"/>
<circle cx="389.03" cy="344.56" r="2.67" fill="#fff" stroke="#0000ff" stroke-width="1.05"/>
<circle cx="396.86" cy="344.15" r="2.67" fill="#fff" stroke="#0000ff" stroke-width="1.05"/>
<circle cx="404.68" cy="354.25" r="2.67" fill="#fff" stroke="#0000ff" stroke-width="1.05"/>
<circle cx="412.5" cy="340" r="2.67" fill="#fff" stroke="#0000ff" stroke-width="1.05"/>
<circle cx="420.32" cy="348.88" r="2.67" fill="#fff" stroke="#0000ff" stroke-width="1.05"/>
<circle cx="428.14" cy="340.4" r="2.67" fill="#fff" stroke="#0000ff" stroke-width="1.05"/>
<circle cx="435.96" cy="341.21" r="2.67" fill="#fff" stroke="#0000ff" stroke-width="1.05"/>
<circle cx="443.78" cy="351.3" r="2.67" fill="#fff" stroke="#0000ff" stroke-width="1.05"/>
<circle cx="451.6" cy="344.03" r="2.67" fill="#fff" stroke="#0000ff" stroke-width="1.05"/>
<circle cx="459.42" cy="357.36" r="2.67" fill="#fff" stroke="#0000ff" stroke-width="1.05"/>
<circle cx="467.24" cy="345.65" r="2.67" fill="#fff" stroke="#0000ff" stroke-width="1.05"/>
<circle cx="475.06" cy="348.88" r="2.67" fill="#fff" stroke="#0000ff" stroke-width="1.05"/>
<circle cx="482.88" cy="346.05" r="2.67" fill="#fff" stroke="#0000ff" stroke-width="1.05"/>
<circle cx="490.7" cy="343.63" r="2.67" fill="#fff" stroke="#0000ff" stroke-width="1.05"/>
<circle cx="498.53" cy="348.88" r="2.67" fill="#fff" stroke="#0000ff" stroke-width="1.05"/>
<circle cx="506.35" cy="359.37" r="2.67" fill="#fff" stroke="#0000ff" stroke-width="1.05"/>
<circle cx="514.17" cy="342.01" r="2.67" fill="#fff" stroke="#0000ff" stroke-width="1.05"/>
<circle cx="521.99" cy="335.96" r="2.67" fill="#fff" stroke="#0000ff" stroke-width="1.05"/>
<circle cx="529.81" cy="339.19" r="2.67" fill="#fff" stroke="#0000ff" stroke-width="1.05"/>
<circle cx="537.63" cy="348.07" r="2.67" fill="#fff" stroke="#0000ff" stroke-width="1.05"/>
<polyline points="37.1,321.75 44.92,356.87 52.74,370.6 60.56,361.31 68.38,340.32 76.2,339.51 84.02,341.13 91.85,333.05 99.67,328.21 107.49,339.51 115.31,347.99 123.13,347.99 130.95,370.68 138.77,370.27 146.59,385.21 154.41,392.88 162.23,383.6 170.05,377.14 177.87,369.87 185.69,371.49 193.52,382.38 201.34,384.4 209.16,388.04 216.98,377.54 224.8,386.42 232.62,375.52 240.44,378.75 248.26,375.52 256.08,373.91 263.9,379.56 271.72,370.68 279.54,369.47 287.36,370.27 295.19,375.93 303.01,378.75 310.83,397.16 318.65,385.21 326.47,394.5 334.29,381.17 342.11,370.64 349.93,341.21 357.75,338.38 365.57,332.73 373.39,344.84 381.21,333.94 389.03,320.23 396.86,319.82 404.68,331.53 412.5,315.14 420.32,326.36 428.14,316.07 435.96,317.08 443.78,329.19 451.6,320.31 459.42,337.67 467.24,323.94 475.06,329.07 482.88,324.75 490.7,322.21 498.53,327.78 506.35,339.86 514.17,320.71 521.99,312.64 529.81,318.29 537.63,326.77" fill="none" stroke="#ff0000" stroke-width="1.6" stroke-dasharray="6.66 2.88" stroke-linejoin="round"/>
<path d="M37.1 318.09L39.33 321.75L37.1 325.41L34.87 321.75Z" fill="#fff" stroke="#ff0000" stroke-width="1.1"/>
<path d="M44.92 353.21L47.15 356.87L44.92 360.53L42.69 356.87Z" fill="#fff" stroke="#ff0000" stroke-width="1.1"/>
<path d="M52.74 366.94L54.97 370.6L52.74 374.26L50.52 370.6Z" fill="#fff" stroke="#ff0000" stroke-width="1.1"/>
<path d="M60.56 357.65L62.79 361.31L60.56 364.97L58.34 361.31Z" fill="#fff" stroke="#ff0000" stroke-width="1.1"/>
<path d="M68.38 336.66L70.61 340.32L68.38 343.98L66.16 340.32Z" fill="#fff" stroke="#ff0000" stroke-width="1.1"/>
<path d="M76.2 335.85L78.43 339.51L76.2 343.17L73.98 339.51Z" fill="#fff" stroke="#ff0000" stroke-width="1.1"/>
<path d="M84.02 337.47L86.25 341.13L84.02 344.79L81.8 341.13Z" fill="#fff" stroke="#ff0000" stroke-width="1.1"/>
<path d="M91.85 329.39L94.07 333.05L91.85 336.71L89.62 333.05Z" fill="#fff" stroke="#ff0000" stroke-width="1.1"/>
<path d="M99.67 324.55L101.89 328.21L99.67 331.87L97.44 328.21Z" fill="#fff" stroke="#ff0000" stroke-width="1.1"/>
<path d="M107.49 335.85L109.71 339.51L107.49 343.17L105.26 339.51Z" fill="#fff" stroke="#ff0000" stroke-width="1.1"/>
<path d="M115.31 344.33L117.53 347.99L115.31 351.65L113.08 347.99Z" fill="#fff" stroke="#ff0000" stroke-width="1.1"/>
<path d="M123.13 344.33L125.35 347.99L123.13 351.65L120.9 347.99Z" fill="#fff" stroke="#ff0000" stroke-width="1.1"/>
<path d="M130.95 367.02L133.18 370.68L130.95 374.34L128.72 370.68Z" fill="#fff" stroke="#ff0000" stroke-width="1.1"/>
<path d="M138.77 366.61L141 370.27L138.77 373.94L136.54 370.27Z" fill="#fff" stroke="#ff0000" stroke-width="1.1"/>
<path d="M146.59 381.55L148.82 385.21L146.59 388.87L144.36 385.21Z" fill="#fff" stroke="#ff0000" stroke-width="1.1"/>
<path d="M154.41 389.22L156.64 392.88L154.41 396.54L152.19 392.88Z" fill="#fff" stroke="#ff0000" stroke-width="1.1"/>
<path d="M162.23 379.93L164.46 383.6L162.23 387.26L160.01 383.6Z" fill="#fff" stroke="#ff0000" stroke-width="1.1"/>
<path d="M170.05 373.48L172.28 377.14L170.05 380.8L167.83 377.14Z" fill="#fff" stroke="#ff0000" stroke-width="1.1"/>
<path d="M177.87 366.21L180.1 369.87L177.87 373.53L175.65 369.87Z" fill="#fff" stroke="#ff0000" stroke-width="1.1"/>
<path d="M185.69 367.82L187.92 371.49L185.69 375.15L183.47 371.49Z" fill="#fff" stroke="#ff0000" stroke-width="1.1"/>
<path d="M193.52 378.72L195.74 382.38L193.52 386.05L191.29 382.38Z" fill="#fff" stroke="#ff0000" stroke-width="1.1"/>
<path d="M201.34 380.74L203.56 384.4L201.34 388.07L199.11 384.4Z" fill="#fff" stroke="#ff0000" stroke-width="1.1"/>
<path d="M209.16 384.37L211.38 388.04L209.16 391.7L206.93 388.04Z" fill="#fff" stroke="#ff0000" stroke-width="1.1"/>
<path d="M216.98 373.88L219.2 377.54L216.98 381.2L214.75 377.54Z" fill="#fff" stroke="#ff0000" stroke-width="1.1"/>
<path d="M224.8 382.76L227.02 386.42L224.8 390.08L222.57 386.42Z" fill="#fff" stroke="#ff0000" stroke-width="1.1"/>
<path d="M232.62 371.86L234.85 375.52L232.62 379.18L230.39 375.52Z" fill="#fff" stroke="#ff0000" stroke-width="1.1"/>
<path d="M240.44 375.09L242.67 378.75L240.44 382.41L238.21 378.75Z" fill="#fff" stroke="#ff0000" stroke-width="1.1"/>
<path d="M248.26 371.86L250.49 375.52L248.26 379.18L246.03 375.52Z" fill="#fff" stroke="#ff0000" stroke-width="1.1"/>
<path d="M256.08 370.25L258.31 373.91L256.08 377.57L253.86 373.91Z" fill="#fff" stroke="#ff0000" stroke-width="1.1"/>
<path d="M263.9 375.9L266.13 379.56L263.9 383.22L261.68 379.56Z" fill="#fff" stroke="#ff0000" stroke-width="1.1"/>
<path d="M271.72 367.02L273.95 370.68L271.72 374.34L269.5 370.68Z" fill="#fff" stroke="#ff0000" stroke-width="1.1"/>
<path d="M279.54 365.8L281.77 369.47L279.54 373.13L277.32 369.47Z" fill="#fff" stroke="#ff0000" stroke-width="1.1"/>
<path d="M287.36 366.61L289.59 370.27L287.36 373.94L285.14 370.27Z" fill="#fff" stroke="#ff0000" stroke-width="1.1"/>
<path d="M295.19 372.26L297.41 375.93L295.19 379.59L292.96 375.93Z" fill="#fff" stroke="#ff0000" stroke-width="1.1"/>
<path d="M303.01 375.09L305.23 378.75L303.01 382.41L300.78 378.75Z" fill="#fff" stroke="#ff0000" stroke-width="1.1"/>
<path d="M310.83 393.5L313.05 397.16L310.83 400.82L308.6 397.16Z" fill="#fff" stroke="#ff0000" stroke-width="1.1"/>
<path d="M318.65 381.55L320.87 385.21L318.65 388.87L316.42 385.21Z" fill="#fff" stroke="#ff0000" stroke-width="1.1"/>
<path d="M326.47 390.83L328.69 394.5L326.47 398.16L324.24 394.5Z" fill="#fff" stroke="#ff0000" stroke-width="1.1"/>
<path d="M334.29 377.51L336.52 381.17L334.29 384.84L332.06 381.17Z" fill="#fff" stroke="#ff0000" stroke-width="1.1"/>
<path d="M342.11 366.98L344.34 370.64L342.11 374.3L339.88 370.64Z" fill="#fff" stroke="#ff0000" stroke-width="1.1"/>
<path d="M349.93 337.55L352.16 341.21L349.93 344.87L347.7 341.21Z" fill="#fff" stroke="#ff0000" stroke-width="1.1"/>
<path d="M357.75 334.72L359.98 338.38L357.75 342.04L355.53 338.38Z" fill="#fff" stroke="#ff0000" stroke-width="1.1"/>
<path d="M365.57 329.07L367.8 332.73L365.57 336.39L363.35 332.73Z" fill="#fff" stroke="#ff0000" stroke-width="1.1"/>
<path d="M373.39 341.18L375.62 344.84L373.39 348.5L371.17 344.84Z" fill="#fff" stroke="#ff0000" stroke-width="1.1"/>
<path d="M381.21 330.28L383.44 333.94L381.21 337.6L378.99 333.94Z" fill="#fff" stroke="#ff0000" stroke-width="1.1"/>
<path d="M389.03 316.57L391.26 320.23L389.03 323.89L386.81 320.23Z" fill="#fff" stroke="#ff0000" stroke-width="1.1"/>
<path d="M396.86 316.16L399.08 319.82L396.86 323.49L394.63 319.82Z" fill="#fff" stroke="#ff0000" stroke-width="1.1"/>
<path d="M404.68 327.87L406.9 331.53L404.68 335.19L402.45 331.53Z" fill="#fff" stroke="#ff0000" stroke-width="1.1"/>
<path d="M412.5 311.48L414.72 315.14L412.5 318.8L410.27 315.14Z" fill="#fff" stroke="#ff0000" stroke-width="1.1"/>
<path d="M420.32 322.7L422.54 326.36L420.32 330.03L418.09 326.36Z" fill="#fff" stroke="#ff0000" stroke-width="1.1"/>
<path d="M428.14 312.41L430.36 316.07L428.14 319.73L425.91 316.07Z" fill="#fff" stroke="#ff0000" stroke-width="1.1"/>
<path d="M435.96 313.42L438.19 317.08L435.96 320.74L433.73 317.08Z" fill="#fff" stroke="#ff0000" stroke-width="1.1"/>
<path d="M443.78 325.53L446.01 329.19L443.78 332.85L441.55 329.19Z" fill="#fff" stroke="#ff0000" stroke-width="1.1"/>
<path d="M451.6 316.65L453.83 320.31L451.6 323.97L449.37 320.31Z" fill="#fff" stroke="#ff0000" stroke-width="1.1"/>
<path d="M459.42 334.01L461.65 337.67L459.42 341.33L457.2 337.67Z" fill="#fff" stroke="#ff0000" stroke-width="1.1"/>
<path d="M467.24 320.28L469.47 323.94L467.24 327.6L465.02 323.94Z" fill="#fff" stroke="#ff0000" stroke-width="1.1"/>
<path d="M475.06 325.41L477.29 329.07L475.06 332.73L472.84 329.07Z" fill="#fff" stroke="#ff0000" stroke-width="1.1"/>
<path d="M482.88 321.09L485.11 324.75L482.88 328.41L480.66 324.75Z" fill="#fff" stroke="#ff0000" stroke-width="1.1"/>
<path d="M490.7 318.54L492.93 322.21L490.7 325.87L488.48 322.21Z" fill="#fff" stroke="#ff0000" stroke-width="1.1"/>
<path d="M498.53 324.11L500.75 327.78L498.53 331.44L496.3 327.78Z" fill="#fff" stroke="#ff0000" stroke-width="1.1"/>
<path d="M506.35 336.2L508.57 339.86L506.35 343.52L504.12 339.86Z" fill="#fff" stroke="#ff0000" stroke-width="1.1"/>
<path d="M514.17 317.05L516.39 320.71L514.17 324.37L511.94 320.71Z" fill="#fff" stroke="#ff0000" stroke-width="1.1"/>
<path d="M521.99 308.98L524.21 312.64L521.99 316.3L519.76 312.64Z" fill="#fff" stroke="#ff0000" stroke-width="1.1"/>
<path d="M529.81 314.63L532.03 318.29L529.81 321.95L527.58 318.29Z" fill="#fff" stroke="#ff0000" stroke-width="1.1"/>
<path d="M537.63 323.11L539.86 326.77L537.63 330.43L535.4 326.77Z" fill="#fff" stroke="#ff0000" stroke-width="1.1"/>
<polyline points="37.1,321.75 44.92,356.87 52.74,370.6 60.56,361.31 68.38,340.32 76.2,339.51 84.02,341.13 91.85,333.05 99.67,328.21 107.49,339.51 115.31,347.99 123.13,347.99 130.95,372.21 138.77,371.81 146.59,386.74 154.41,394.42 162.23,385.13 170.05,378.67 177.87,371.4 185.69,373.02 193.52,383.92 201.34,385.94 209.16,389.57 216.98,379.07 224.8,387.96 232.62,377.06 240.44,380.29 248.26,377.06 256.08,375.44 263.9,381.09 271.72,372.21 279.54,371 287.36,371.81 295.19,377.46 303.01,380.29 310.83,398.69 318.65,386.74 326.47,396.03 334.29,382.71 342.11,372.17 349.93,342.74 357.75,339.92 365.57,334.26 373.39,346.37 381.21,335.48 389.03,320.46 396.86,320.05 404.68,331.76 412.5,315.37 420.32,326.59 428.14,316.3 435.96,317.31 443.78,329.42 451.6,320.54 459.42,337.9 467.24,324.17 475.06,329.3 482.88,324.98 490.7,322.44 498.53,328.01 506.35,340.32 514.17,320.94 521.99,312.87 529.81,318.52 537.63,327" fill="none" stroke="#000" stroke-width="1.85" stroke-dasharray="11.52 2.88 1.8 2.88" stroke-linejoin="round"/>
<rect x="34.48" y="319.12" width="5.25" height="5.25" fill="#fff" stroke="#000" stroke-width="1.2"/>
<rect x="42.3" y="354.25" width="5.25" height="5.25" fill="#fff" stroke="#000" stroke-width="1.2"/>
<rect x="50.12" y="367.97" width="5.25" height="5.25" fill="#fff" stroke="#000" stroke-width="1.2"/>
<rect x="57.94" y="358.69" width="5.25" height="5.25" fill="#fff" stroke="#000" stroke-width="1.2"/>
<rect x="65.76" y="337.69" width="5.25" height="5.25" fill="#fff" stroke="#000" stroke-width="1.2"/>
<rect x="73.58" y="336.89" width="5.25" height="5.25" fill="#fff" stroke="#000" stroke-width="1.2"/>
<rect x="81.4" y="338.5" width="5.25" height="5.25" fill="#fff" stroke="#000" stroke-width="1.2"/>
<rect x="89.22" y="330.43" width="5.25" height="5.25" fill="#fff" stroke="#000" stroke-width="1.2"/>
<rect x="97.04" y="325.58" width="5.25" height="5.25" fill="#fff" stroke="#000" stroke-width="1.2"/>
<rect x="104.86" y="336.89" width="5.25" height="5.25" fill="#fff" stroke="#000" stroke-width="1.2"/>
<rect x="112.68" y="345.36" width="5.25" height="5.25" fill="#fff" stroke="#000" stroke-width="1.2"/>
<rect x="120.5" y="345.36" width="5.25" height="5.25" fill="#fff" stroke="#000" stroke-width="1.2"/>
<rect x="128.32" y="369.59" width="5.25" height="5.25" fill="#fff" stroke="#000" stroke-width="1.2"/>
<rect x="136.15" y="369.18" width="5.25" height="5.25" fill="#fff" stroke="#000" stroke-width="1.2"/>
<rect x="143.97" y="384.12" width="5.25" height="5.25" fill="#fff" stroke="#000" stroke-width="1.2"/>
<rect x="151.79" y="391.79" width="5.25" height="5.25" fill="#fff" stroke="#000" stroke-width="1.2"/>
<rect x="159.61" y="382.51" width="5.25" height="5.25" fill="#fff" stroke="#000" stroke-width="1.2"/>
<rect x="167.43" y="376.05" width="5.25" height="5.25" fill="#fff" stroke="#000" stroke-width="1.2"/>
<rect x="175.25" y="368.78" width="5.25" height="5.25" fill="#fff" stroke="#000" stroke-width="1.2"/>
<rect x="183.07" y="370.39" width="5.25" height="5.25" fill="#fff" stroke="#000" stroke-width="1.2"/>
<rect x="190.89" y="381.29" width="5.25" height="5.25" fill="#fff" stroke="#000" stroke-width="1.2"/>
<rect x="198.71" y="383.31" width="5.25" height="5.25" fill="#fff" stroke="#000" stroke-width="1.2"/>
<rect x="206.53" y="386.95" width="5.25" height="5.25" fill="#fff" stroke="#000" stroke-width="1.2"/>
<rect x="214.35" y="376.45" width="5.25" height="5.25" fill="#fff" stroke="#000" stroke-width="1.2"/>
<rect x="222.17" y="385.33" width="5.25" height="5.25" fill="#fff" stroke="#000" stroke-width="1.2"/>
<rect x="229.99" y="374.43" width="5.25" height="5.25" fill="#fff" stroke="#000" stroke-width="1.2"/>
<rect x="237.81" y="377.66" width="5.25" height="5.25" fill="#fff" stroke="#000" stroke-width="1.2"/>
<rect x="245.64" y="374.43" width="5.25" height="5.25" fill="#fff" stroke="#000" stroke-width="1.2"/>
<rect x="253.46" y="372.82" width="5.25" height="5.25" fill="#fff" stroke="#000" stroke-width="1.2"/>
<rect x="261.28" y="378.47" width="5.25" height="5.25" fill="#fff" stroke="#000" stroke-width="1.2"/>
<rect x="269.1" y="369.59" width="5.25" height="5.25" fill="#fff" stroke="#000" stroke-width="1.2"/>
<rect x="276.92" y="368.38" width="5.25" height="5.25" fill="#fff" stroke="#000" stroke-width="1.2"/>
<rect x="284.74" y="369.18" width="5.25" height="5.25" fill="#fff" stroke="#000" stroke-width="1.2"/>
<rect x="292.56" y="374.83" width="5.25" height="5.25" fill="#fff" stroke="#000" stroke-width="1.2"/>
<rect x="300.38" y="377.66" width="5.25" height="5.25" fill="#fff" stroke="#000" stroke-width="1.2"/>
<rect x="308.2" y="396.07" width="5.25" height="5.25" fill="#fff" stroke="#000" stroke-width="1.2"/>
<rect x="316.02" y="384.12" width="5.25" height="5.25" fill="#fff" stroke="#000" stroke-width="1.2"/>
<rect x="323.84" y="393.4" width="5.25" height="5.25" fill="#fff" stroke="#000" stroke-width="1.2"/>
<rect x="331.66" y="380.08" width="5.25" height="5.25" fill="#fff" stroke="#000" stroke-width="1.2"/>
<rect x="339.49" y="369.55" width="5.25" height="5.25" fill="#fff" stroke="#000" stroke-width="1.2"/>
<rect x="347.31" y="340.12" width="5.25" height="5.25" fill="#fff" stroke="#000" stroke-width="1.2"/>
<rect x="355.13" y="337.29" width="5.25" height="5.25" fill="#fff" stroke="#000" stroke-width="1.2"/>
<rect x="362.95" y="331.64" width="5.25" height="5.25" fill="#fff" stroke="#000" stroke-width="1.2"/>
<rect x="370.77" y="343.75" width="5.25" height="5.25" fill="#fff" stroke="#000" stroke-width="1.2"/>
<rect x="378.59" y="332.85" width="5.25" height="5.25" fill="#fff" stroke="#000" stroke-width="1.2"/>
<rect x="386.41" y="317.83" width="5.25" height="5.25" fill="#fff" stroke="#000" stroke-width="1.2"/>
<rect x="394.23" y="317.43" width="5.25" height="5.25" fill="#fff" stroke="#000" stroke-width="1.2"/>
<rect x="402.05" y="329.14" width="5.25" height="5.25" fill="#fff" stroke="#000" stroke-width="1.2"/>
<rect x="409.87" y="312.75" width="5.25" height="5.25" fill="#fff" stroke="#000" stroke-width="1.2"/>
<rect x="417.69" y="323.97" width="5.25" height="5.25" fill="#fff" stroke="#000" stroke-width="1.2"/>
<rect x="425.51" y="313.67" width="5.25" height="5.25" fill="#fff" stroke="#000" stroke-width="1.2"/>
<rect x="433.33" y="314.68" width="5.25" height="5.25" fill="#fff" stroke="#000" stroke-width="1.2"/>
<rect x="441.16" y="326.79" width="5.25" height="5.25" fill="#fff" stroke="#000" stroke-width="1.2"/>
<rect x="448.98" y="317.91" width="5.25" height="5.25" fill="#fff" stroke="#000" stroke-width="1.2"/>
<rect x="456.8" y="335.27" width="5.25" height="5.25" fill="#fff" stroke="#000" stroke-width="1.2"/>
<rect x="464.62" y="321.55" width="5.25" height="5.25" fill="#fff" stroke="#000" stroke-width="1.2"/>
<rect x="472.44" y="326.67" width="5.25" height="5.25" fill="#fff" stroke="#000" stroke-width="1.2"/>
<rect x="480.26" y="322.35" width="5.25" height="5.25" fill="#fff" stroke="#000" stroke-width="1.2"/>
<rect x="488.08" y="319.81" width="5.25" height="5.25" fill="#fff" stroke="#000" stroke-width="1.2"/>
<rect x="495.9" y="325.38" width="5.25" height="5.25" fill="#fff" stroke="#000" stroke-width="1.2"/>
<rect x="503.72" y="337.69" width="5.25" height="5.25" fill="#fff" stroke="#000" stroke-width="1.2"/>
<rect x="511.54" y="318.32" width="5.25" height="5.25" fill="#fff" stroke="#000" stroke-width="1.2"/>
<rect x="519.36" y="310.24" width="5.25" height="5.25" fill="#fff" stroke="#000" stroke-width="1.2"/>
<rect x="527.18" y="315.89" width="5.25" height="5.25" fill="#fff" stroke="#000" stroke-width="1.2"/>
<rect x="535" y="324.37" width="5.25" height="5.25" fill="#fff" stroke="#000" stroke-width="1.2"/>
</g>
<rect x="37.1" y="234.55" width="508.35" height="201.85" fill="none" stroke="#484848" stroke-width="1.15"/>
<path d="M37.1 436.4v3.3M115.31 436.4v3.3M193.52 436.4v3.3M271.72 436.4v3.3M349.93 436.4v3.3M428.14 436.4v3.3M506.35 436.4v3.3M37.1 436.4h-3.3M37.1 396.45h-3.3M37.1 356h-3.3M37.1 315.55h-3.3M37.1 275.1h-3.3M37.1 234.55h-3.3" fill="none" stroke="#484848" stroke-width="0.9"/>
<text x="30.8" y="440.35" text-anchor="end" font-family="'DejaVu Sans','Liberation Sans',sans-serif" font-size="9.6" fill="#222">0</text>
<text x="30.8" y="400.4" text-anchor="end" font-family="'DejaVu Sans','Liberation Sans',sans-serif" font-size="9.6" fill="#222">1</text>
<text x="30.8" y="359.95" text-anchor="end" font-family="'DejaVu Sans','Liberation Sans',sans-serif" font-size="9.6" fill="#222">2</text>
<text x="30.8" y="319.5" text-anchor="end" font-family="'DejaVu Sans','Liberation Sans',sans-serif" font-size="9.6" fill="#222">3</text>
<text x="30.8" y="279.05" text-anchor="end" font-family="'DejaVu Sans','Liberation Sans',sans-serif" font-size="9.6" fill="#222">4</text>
<text x="30.8" y="238.5" text-anchor="end" font-family="'DejaVu Sans','Liberation Sans',sans-serif" font-size="9.6" fill="#222">5</text>
<text transform="translate(17.5 335.6) rotate(-90)" text-anchor="middle" font-family="'DejaVu Sans','Liberation Sans',sans-serif" font-weight="bold" font-size="11.1">H<tspan font-size="7.77" font-weight="normal" dy="2">1<tspan font-style="italic">m</tspan></tspan><tspan dy="-2"> (m)</tspan></text>
</g>
</svg>
</body></html>
